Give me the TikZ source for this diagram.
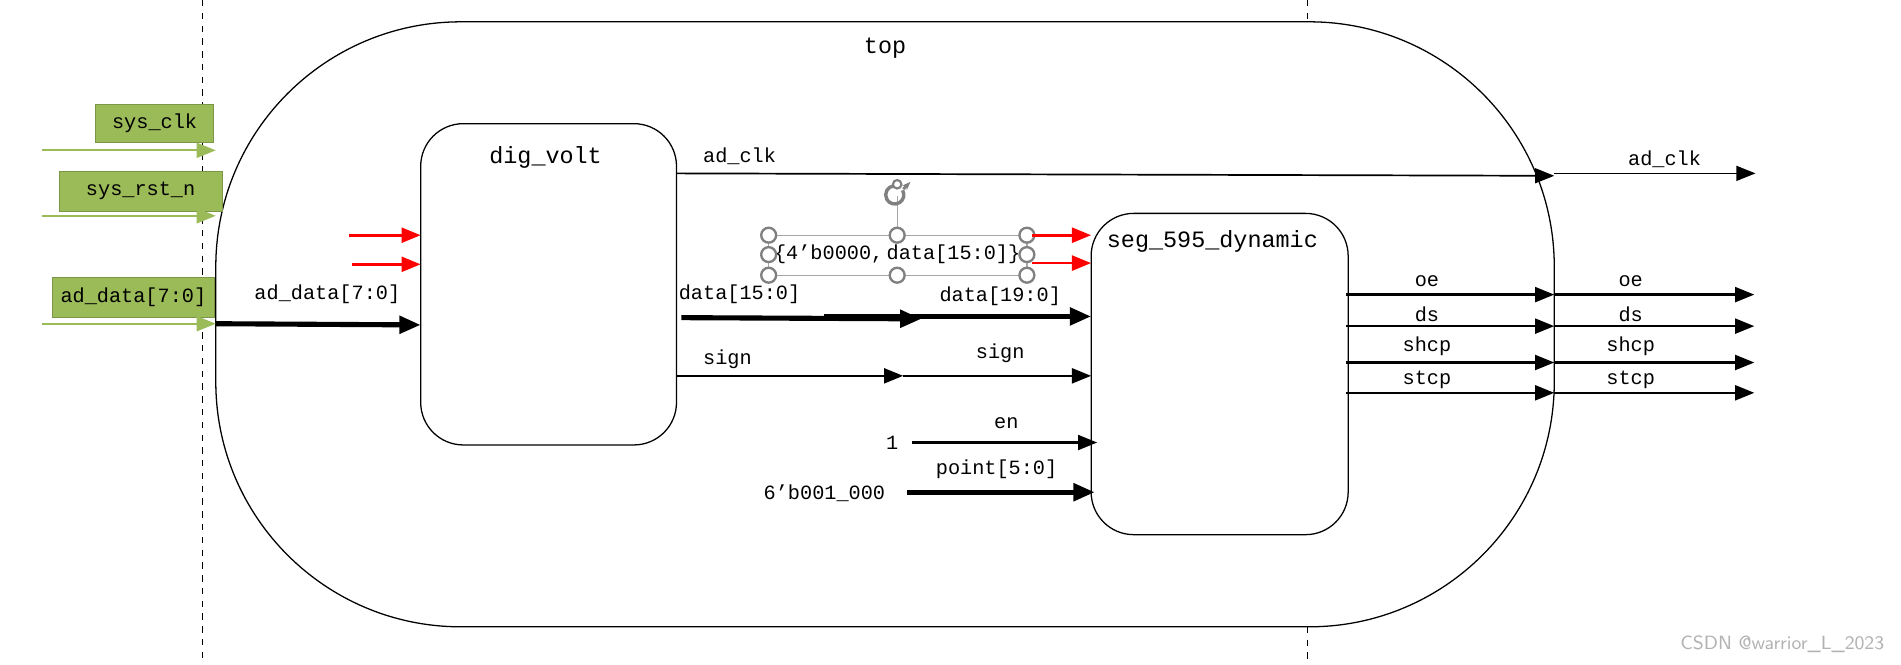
\documentclass[tikz,border=0pt]{standalone}
\usepackage{fontspec}
\setmainfont{Liberation Mono}
\usetikzlibrary{arrows.meta}
\definecolor{grn}{HTML}{9BBB59}
\begin{document}
\begin{tikzpicture}[x=0.02cm,y=-0.02cm,
  lbl/.style={font=\fontsize{9.5}{10}\selectfont,inner sep=0pt},
  big/.style={font=\fontsize{11}{12}\selectfont,inner sep=0pt},
  sig/.style={line width=1.1pt,-{Triangle[length=9pt,width=7pt]}},
  bus/.style={line width=2.4pt,-{Triangle[length=10pt,width=8pt]}},
  red/.style={draw=red,line width=1.3pt,-{Triangle[length=9pt,width=7pt]}},
  gin/.style={draw=grn,line width=1pt,-{Triangle[length=9pt,width=7pt]}},
  gbox/.style={fill=grn,draw=grn!80!black,line width=0.3pt,inner sep=0pt,font=\fontsize{9.5}{10}\selectfont},
  hdl/.style={draw=gray,line width=1.1pt,fill=white,circle,inner sep=0pt,minimum size=7pt}]
\useasboundingbox (0,0) rectangle (1568,548);
% dashed guide lines
\draw[dashed,line width=0.4pt] (167,0) -- (167,548);
\draw[dashed,line width=0.4pt] (1078,0) -- (1078,18);
\draw[dashed,line width=0.4pt] (1078,517) -- (1078,548);
% top module
\draw[line width=0.6pt,rounded corners=115] (178,18) rectangle (1282,517);
\node[big] (top) at (730,40) {top};
% sub modules
\draw[line width=0.6pt,rounded corners=20] (347,102) rectangle (558,367);
\node[big] (dv) at (450,130) {dig\_volt};
\draw[line width=0.6pt,rounded corners=20] (900,176) rectangle (1112,441);
\node[big] (seg) at (1000,199) {seg\_595\_dynamic};
% green inputs
\node[gbox,minimum width=97*0.02cm,minimum height=31*0.02cm] (sclk) at (127.5,101.5) {sys\_clk};
\node[gbox,minimum width=134*0.02cm,minimum height=33*0.02cm] (srst) at (116,157.5) {sys\_rst\_n};
\node[gbox,minimum width=134*0.02cm,minimum height=33*0.02cm] (adin) at (110,245.5) {ad\_data[7:0]};
\coordinate (g1a) at (35,124); \coordinate (g1b) at (178,124);
\coordinate (g2a) at (35,178); \coordinate (g2b) at (178,178);
\coordinate (g3a) at (35,267); \coordinate (g3b) at (178,267);
\draw[gin] (g1a) -- (g1b);
\draw[gin] (g2a) -- (g2b);
\draw[gin] (g3a) -- (g3b);
% ad_data into dig_volt
\coordinate (ad1) at (347,268);
\draw[bus] (g3b) -- (ad1);
\node[lbl] at (270,243) {ad\_data[7:0]};
% red arrows into dig_volt
\coordinate (r1a) at (288,194); \coordinate (r1b) at (347,194);
\coordinate (r2a) at (290,218); \coordinate (r2b) at (347,218);
\draw[red] (r1a) -- (r1b);
\draw[red] (r2a) -- (r2b);
% ad_clk
\coordinate (ck0) at (558,143); \coordinate (ck1) at (1282,145); \coordinate (ck2) at (1448,143);
\draw[line width=0.8pt,-{Triangle[length=9pt,width=7pt]}] (ck0) -- (ck1);
\draw[line width=0.8pt,-{Triangle[length=9pt,width=7pt]}] (1282,143) -- (ck2);
\node[lbl] at (610,129) {ad\_clk};
\node[lbl] at (1373,131) {ad\_clk};
% selected text box
\draw[gray!70,line width=0.6pt] (634,194) rectangle (847,227);
\draw[gray!70,line width=0.6pt] (740,194) -- (740,162);
\node[lbl] (cat) at (740,210) {\{4'b0000,\,data[15:0]\}};
\foreach \p in {(634,194),(740,194),(847,194),(634,210),(847,210),(634,227),(740,227),(847,227)}
  \node[hdl] at \p {};
\draw[gray,line width=1.6pt] (744.5,157) arc[start angle=-30,end angle=260,radius=7.5];
\draw[gray,line width=1pt] (740,152) circle (3.5);
\draw[gray,line width=1.4pt,-{Stealth[length=4pt]}] (745,156) -- (751,150);
\coordinate (r3a) at (851,194); \coordinate (r3b) at (900,194);
\coordinate (r4a) at (851,217); \coordinate (r4b) at (900,217);
\draw[red] (r3a) -- (r3b);
\draw[red] (r4a) -- (r4b);
% data
\coordinate (d0) at (562,262); \coordinate (d1) at (760,263);
\coordinate (d2) at (680,261); \coordinate (d3) at (900,261);
\draw[bus] (d0) -- (d1);
\draw[bus] (d2) -- (d3);
\node[lbl] at (610,243) {data[15:0]};
\node[lbl] at (825,244) {data[19:0]};
% sign
\coordinate (s0) at (558,310); \coordinate (s1) at (745,310); \coordinate (s2) at (900,310);
\draw[sig] (s0) -- (s1);
\draw[sig] (s1) -- (s2);
\node[lbl] at (600,296) {sign};
\node[lbl] at (825,291) {sign};
% en
\node[lbl] (one) at (736,365) {1};
\coordinate (e0) at (752,365); \coordinate (e1) at (905,365);
\draw[sig] (e0) -- (e1);
\node[lbl] at (830,349) {en};
% point
\node[lbl] (pt) at (680,407) {6'b001\_000};
\coordinate (p0) at (748,406); \coordinate (p1) at (903,406);
\draw[bus] (p0) -- (p1);
\node[lbl] at (822,387) {point[5:0]};
% outputs
\foreach \y/\t/\ly in {243/oe/232,269/ds/259,299/shcp/286,324/stcp/313}{
  \coordinate (o\t a) at (1110,\y);
  \coordinate (o\t b) at (1282,\y);
  \coordinate (o\t c) at (1447,\y);
  \draw[sig] (o\t a) -- (o\t b);
  \draw[sig] (o\t b) -- (o\t c);
  \node[lbl] at (1177,\ly) {\t};
  \node[lbl] at (1345,\ly) {\t};
}
% watermark
\node[font=\fontfamily{lmss}\fontsize{9}{10}\selectfont,text=gray!60,inner sep=0pt] at (1470,531) {CSDN @warrior\_L\_2023};
\end{tikzpicture}
\end{document}
